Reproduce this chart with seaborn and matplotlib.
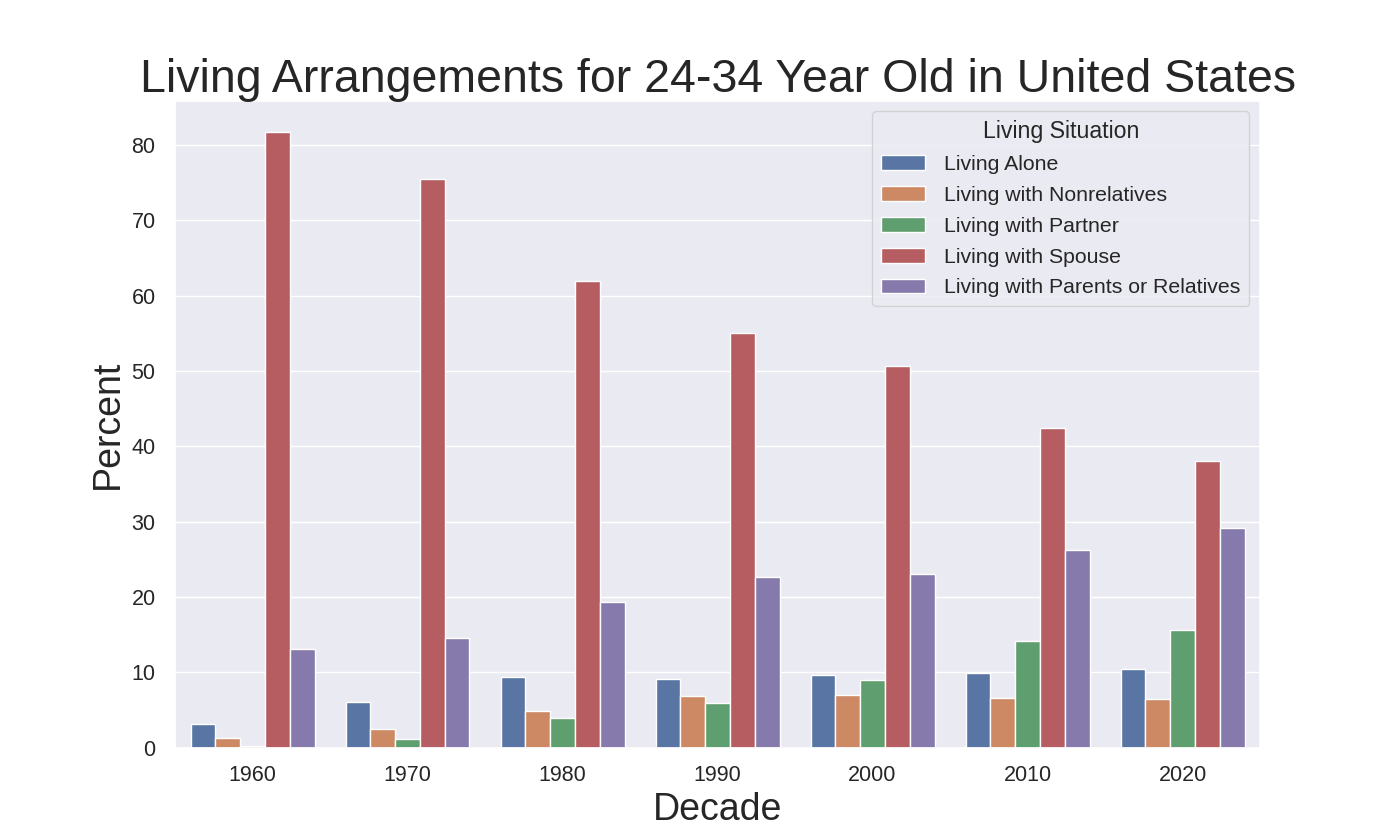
import matplotlib
matplotlib.use("Agg")
import matplotlib.pyplot as plt
import seaborn as sns
import pandas as pd

# decades on the x axis
decades = ["1960", "1970", "1980", "1990", "2000", "2010", "2020"]

# percent of 24-34 year olds in each living situation
living_alone = [3.2, 6.0, 9.4, 9.1, 9.7, 9.9, 10.4]
with_nonrelatives = [1.3, 2.5, 4.8, 6.8, 7.0, 6.6, 6.4]
with_partner = [0.2, 1.1, 3.9, 5.9, 9.0, 14.2, 15.6]
with_spouse = [81.8, 75.5, 62.0, 55.0, 50.7, 42.5, 38.1]
with_parents = [13.1, 14.5, 19.4, 22.7, 23.0, 26.3, 29.1]

situations = {
    "Living Alone": living_alone,
    "Living with Nonrelatives": with_nonrelatives,
    "Living with Partner": with_partner,
    "Living with Spouse": with_spouse,
    "Living with Parents or Relatives": with_parents,
}

rows = []
for name, values in situations.items():
    for decade, value in zip(decades, values):
        rows.append({"Decade": decade, "Percent": value, "Living Situation": name})
df = pd.DataFrame(rows)

sns.set_theme(style="darkgrid", font_scale=1.3)
plt.rcParams["font.family"] = ["Liberation Sans", "DejaVu Sans"]

fig, ax = plt.subplots(figsize=(14, 8.4), dpi=100)
sns.barplot(data=df, x="Decade", y="Percent", hue="Living Situation",
            palette="deep", ax=ax)

ax.set_title("Living Arrangements for 24-34 Year Old in United States", fontsize=33.5)
ax.set_xlabel("Decade", fontsize=27)
ax.set_ylabel("Percent", fontsize=27)
ax.tick_params(axis="both", labelsize=15.5)
ax.tick_params(axis="x", pad=6.5)
ax.tick_params(axis="y", pad=8)
ax.legend(title="Living Situation", loc="upper right",
          fontsize=15.3, title_fontsize=16.7,
          handlelength=2.1, handletextpad=0.9, labelspacing=0.56)

fig.savefig("out.png", dpi=100)
